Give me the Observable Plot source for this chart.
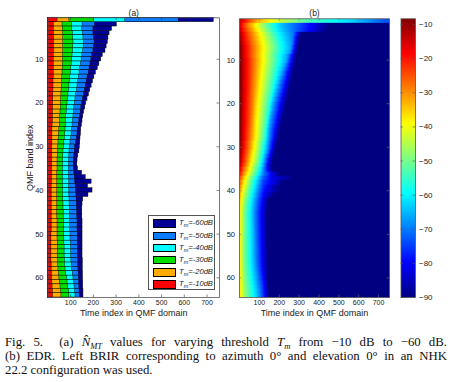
<!DOCTYPE html>
<html><head><meta charset="utf-8">
<script src="https://cdn.jsdelivr.net/npm/d3@7"></script>
<script src="https://cdn.jsdelivr.net/npm/@observablehq/plot@0.6"></script>
<style>
body{margin:0;background:#fff;}
#fig{position:relative;width:454px;height:382px;overflow:hidden;background:#fff;font-family:"Liberation Sans",Arial,sans-serif;}
#fig svg{position:absolute;top:0;}
#legend{position:absolute;left:148px;top:215px;width:67px;height:75px;background:#fff;border:0.8px solid #555;box-sizing:border-box;}
.lg{position:absolute;left:3.5px;height:12px;white-space:nowrap;}
.lg .sw{position:absolute;left:0;top:0;width:23px;height:8.5px;border:0.6px solid #000;box-sizing:border-box;}
.lg .tx{position:absolute;left:26.5px;top:-1px;font-style:italic;font-size:7.6px;line-height:10px;color:#222;}
.lg sub{font-size:5.5px;vertical-align:-1.5px;line-height:0;}
#cap{position:absolute;left:5px;top:334.8px;width:442px;font-family:"Liberation Serif","Times New Roman",serif;font-size:12.8px;line-height:14px;color:#111;}
#cap .j{text-align:justify;text-align-last:justify;}
#cap sub{font-size:8.5px;vertical-align:-2.5px;line-height:0;}
</style></head><body><div id="fig"><div id="legend"></div><div id="cap">
<div class="j">Fig. 5.&nbsp;&nbsp;(a) <i>N̂</i><sub><i>MT</i></sub> values for varying threshold <i>T</i><sub><i>m</i></sub> from −10 dB to −60 dB.</div>
<div class="j">(b) EDR. Left BRIR corresponding to azimuth 0° and elevation 0° in an NHK</div>
<div>22.2 configuration was used.</div>
</div></div>
<script>
// ---------- data ----------
const thresholds = [-10, -20, -30, -40, -50, -60];
const seriesColors = ["#ff0000", "#ffab00", "#00e000", "#00ffff", "#0a7cff", "#000096"];
const xTicks = [100, 200, 300, 400, 500, 600, 700];
const yTicks = [10, 20, 30, 40, 50, 60];
const cbTicks = [-90, -80, -70, -60, -50, -40, -30, -20, -10];

// N_MT (time index) per QMF band 1..64 for each threshold
const n10 = [42,25,25,26,26,26,26,26, 25,25,25,25,25,25,24,24, 24,23,23,22,22,21,21,21, 20,19,19,19,19,18,18,18,
             18,18,18,17,17,17,16,16, 16,16,16,16,16,16,16,16, 16,15,15,15,15,15,15,15, 16,16,17,18,19,20,21,22];
const n20 = [94,64,65,66,67,67,67,67, 66,66,65,65,64,63,62,61, 60,59,58,57,56,55,54,53, 52,50,48,47,46,45,44,43,
             42,42,42,41,41,41,41,41, 41,41,41,41,41,41,42,42, 42,42,42,43,43,43,43,44, 45,46,48,50,52,55,57,59];
const n30 = [203,105,107,109,111,112,111,110, 108,106,104,102,100,98,96,94, 92,90,88,86,84,82,80,79, 78,77,76,74,72,70,68,67,
             66,65,65,65,65,65,66,66, 67,67,68,68,69,69,70,70, 71,71,72,72,73,73,73,74, 75,77,80,83,86,89,92,94];
const n40 = [340,152,150,153,156,158,157,155, 151,148,145,142,139,136,133,130, 127,124,121,118,116,114,112,110, 108,106,104,102,99,97,95,94,
             93,92,92,92,92,93,93,94, 94,95,95,96,96,97,97,98, 98,99,99,100,101,102,102,103, 104,106,109,112,115,117,119,121];
const n50 = [575,207,200,200,203,205,203,200, 195,191,187,183,179,174,170,166, 162,158,154,150,147,144,141,138, 135,132,130,127,124,120,118,116,
             114,113,114,116,118,120,122,124, 125,126,127,128,129,129,130,130, 130,131,131,131,132,132,132,133, 133,134,135,136,137,138,139,140];
const n60 = [730,303,282,271,266,263,258,253, 241,234,226,219,211,204,198,192, 186,180,174,168,164,159,155,152, 149,146,145,143,142,140,138,133,
             130,129,132,150,166,192,176,196, 178,155,152,151,151,151,152,152, 152,152,152,152,152,152,152,153, 153,153,154,154,155,155,156,156];

// EDR (dB) at time 0 per band, and time where EDR reaches the -90 dB floor (null: already below)
const edrStart = [-13,-14,-12,-10,-9,-8,-7,-7, -7,-6,-6,-6,-6,-6,-6,-6, -6,-6,-6,-6,-6,-6,-6,-6, -6,-6,-6,-6,-7,-7,-8,-9,
                  -10,-12,-15,-18,-22,-25,-27,-29, -31,-33,-34,-35,-36,-36,-36,-36, -36,-36,-36,-36,-36,-36,-36,-36, -36,-36,-36,-36,-36,-36,-36,-36];
const edrFloorTime = [null,454,440,311,301,298,294,290, 285,281,277,273,268,264,260,255, 250,245,240,235,230,225,220,215,
                  209,204,199,194,189,184,178,172, 166,162,165,200,276,215,210,230, null,null,null,null,null,null,null,null,
                  null,null,null,null,null,null,null,null, null,null,null,null,null,null,null,null];

// ---------- helpers ----------
const bandIdx = d3.range(n10.length);
const nByT = [n10, n20, n30, n40, n50, n60];
const rows = [];
thresholds.forEach((th, k) => bandIdx.forEach(i => rows.push({band: i + 1, th, n: nByT[k][i]})));
const xDomain = [0, 755];
const cMin = -90, cMax = -8.3;
const jetStops = [0, 1/8, 3/8, 5/8, 7/8, 1].map(f => cMin + f * (cMax - cMin));
const jetColors = ["#000080", "#0000ff", "#00ffff", "#ffff00", "#ff0000", "#800000"];
const colorOpts = {type: "linear", domain: jetStops, range: jetColors, clamp: true};
const edrScales = bandIdx.map(i => {
  const t = [0, ...nByT.map(a => a[i])];
  const v = [edrStart[i], ...thresholds.map(th => edrStart[i] + th)];
  if (edrFloorTime[i] != null) { t.push(edrFloorTime[i]); v.push(cMin); }
  return d3.scaleLinear().domain(t).range(v).clamp(true);
});
const edrAt = (x, y) => edrScales[Math.max(0, Math.min(63, Math.round(y) - 1))](x);

const baseStyle = {fontFamily: "'Liberation Sans', Arial, sans-serif", fontSize: "7px", background: "transparent", color: "#222", overflow: "visible"};
const fh = 297 - 17.3, fw = 219 - 47.5;
const tick = {stroke: "#333", strokeOpacity: 1, strokeWidth: 0.6};

// ---------- panel (a) ----------
const drawOrder = [5, 4, 3, 2, 1, 0];
const plotA = Plot.plot({
  width: 230, height: 320, marginLeft: 47.5, marginRight: 11, marginTop: 17.3, marginBottom: 23,
  style: baseStyle,
  x: {domain: xDomain, axis: null},
  y: {domain: [0.5, 64.5], reverse: true, axis: null},
  marks: [
    ...drawOrder.map(k => Plot.rectX(rows.filter(r => r.th === thresholds[k]), {
      x1: 0, x2: "n", y1: d => d.band - 0.5, y2: d => d.band + 0.5,
      fill: seriesColors[k], stroke: "#000", strokeWidth: 0.45
    })),
    Plot.frame({stroke: "#555", strokeWidth: 0.8}),
    Plot.gridX(xTicks, {...tick, insetTop: fh - 2.5}),
    Plot.gridX(xTicks, {...tick, insetBottom: fh - 2.5}),
    Plot.gridY(yTicks, {...tick, insetRight: fw - 2.5}),
    Plot.gridY(yTicks, {...tick, insetLeft: fw - 2.5}),
    Plot.axisX(xTicks, {anchor: "bottom", tickSize: 0, tickPadding: 3, label: null, fontSize: 7}),
    Plot.axisY(yTicks, {anchor: "left", tickSize: 0, tickPadding: 4.5, label: null, fontSize: 7.5}),
    Plot.text(["Time index in QMF domain"], {frameAnchor: "bottom", dy: 18, fontSize: 9}),
    Plot.text(["QMF band index"], {frameAnchor: "left", dx: -18, rotate: -90, textAnchor: "middle", fontSize: 9}),
    Plot.text(["(a)"], {frameAnchor: "top", dy: -8, fontSize: 8.5})
  ]
});
plotA.style.left = "0px";

// ---------- panel (b) ----------
const fwB = 389 - 239, fhB = 297 - 18.3;
const plotB = Plot.plot({
  width: 200, height: 320, marginLeft: 39, marginRight: 11, marginTop: 18.3, marginBottom: 23,
  style: baseStyle,
  x: {domain: xDomain, axis: null},
  y: {domain: [0.5, 64.5], reverse: true, axis: null},
  color: colorOpts,
  marks: [
    Plot.raster({fill: edrAt, x1: xDomain[0], x2: xDomain[1], y1: 0.5, y2: 64.5}),
    Plot.frame({stroke: "#555", strokeWidth: 0.8}),
    Plot.gridX(xTicks, {...tick, stroke: "#777", insetTop: fhB - 2.5}),
    Plot.gridX(xTicks, {...tick, stroke: "#777", insetBottom: fhB - 2.5}),
    Plot.gridY(yTicks, {...tick, stroke: "#777", insetRight: fwB - 2.5}),
    Plot.gridY(yTicks, {...tick, stroke: "#777", insetLeft: fwB - 2.5}),
    Plot.axisX(xTicks, {anchor: "bottom", tickSize: 0, tickPadding: 3, label: null, fontSize: 7}),
    Plot.axisY(yTicks, {anchor: "left", tickSize: 0, tickPadding: 4.5, label: null, fontSize: 7.5}),
    Plot.text(["Time index in QMF domain"], {frameAnchor: "bottom", dy: 18, fontSize: 9}),
    Plot.text(["(b)"], {frameAnchor: "top", dy: -8.5, fontSize: 8.5})
  ]
});
plotB.style.left = "200px";

// ---------- colorbar ----------
const fwC = 415 - 400.5, fhC = 297 - 18.3;
const plotC = Plot.plot({
  width: 59, height: 320, marginLeft: 5.5, marginRight: 39, marginTop: 18.3, marginBottom: 23,
  style: baseStyle,
  x: {domain: [0, 1], axis: null},
  y: {domain: [cMin, cMax], axis: null},
  color: colorOpts,
  marks: [
    Plot.raster({fill: (x, y) => y, x1: 0, x2: 1, y1: cMin, y2: cMax}),
    Plot.frame({stroke: "#555", strokeWidth: 0.8}),
    Plot.gridY(cbTicks, {...tick, stroke: "#555", insetLeft: fwC - 2.5}),
    Plot.gridY(cbTicks, {...tick, stroke: "#555", insetRight: fwC - 2.5}),
    Plot.axisY(cbTicks, {anchor: "right", tickSize: 0, tickPadding: 3.5, label: null, fontSize: 8,
      tickFormat: d => String(d).replace("-", "\u2212")})
  ]
});
plotC.style.left = "395px";

const fig = document.getElementById("fig");
fig.prepend(plotC); fig.prepend(plotB); fig.prepend(plotA);

// ---------- legend (a) ----------
const legend = document.getElementById("legend");
drawOrder.forEach((k, i) => {
  const row = document.createElement("div");
  row.className = "lg";
  row.style.top = (3.3 + i * 12.2) + "px";
  row.innerHTML = `<div class="sw" style="background:${seriesColors[k]}"></div><div class="tx">T<sub>m</sub>=${thresholds[k]}dB</div>`;
  legend.appendChild(row);
});
</script></body></html>
